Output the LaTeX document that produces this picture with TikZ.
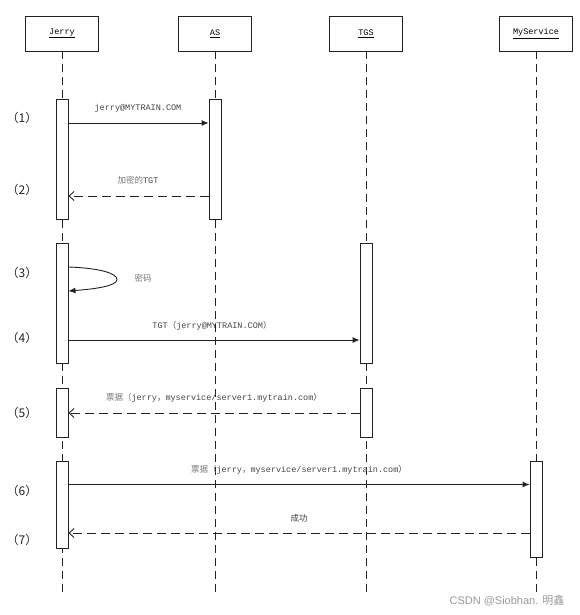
\documentclass[tikz,border=0pt]{standalone}
\usepackage{fontspec}
\setmainfont{Liberation Mono}
\setmonofont{Liberation Mono}
\newfontfamily\cjk{Noto Sans CJK SC}
\newfontfamily\wmfont{Liberation Sans}
\usetikzlibrary{arrows.meta}
\definecolor{lc}{HTML}{222222}
\definecolor{tc}{HTML}{444444}
\definecolor{cc}{HTML}{777777}
\tikzset{
  head/.style={draw=lc, line width=0.9pt, minimum width=73pt, minimum height=35pt, inner sep=0pt, font=\fontsize{8.5}{10}\selectfont\ttfamily},
  life/.style={draw=lc, line width=0.8pt, dash pattern=on 8pt off 5pt},
  act/.style={draw=lc, fill=white, line width=0.9pt, minimum width=12pt, inner sep=0pt},
  msg/.style={draw=lc, line width=0.9pt, -{Latex[length=7pt,width=6pt]}},
  ret/.style={draw=lc, line width=0.9pt, dash pattern=on 9pt off 5pt, -{Straight Barb[length=5pt,width=9pt]}},
  lbl/.style={text=tc, inner sep=0pt, font=\fontsize{8.5}{10}\selectfont\ttfamily},
  steplbl/.style={text=lc, inner sep=0pt, font=\fontsize{12}{13}\selectfont\cjk},
}
\begin{document}
\begin{tikzpicture}[x=1pt,y=-1pt]
\useasboundingbox (0,0) rectangle (580,615);
% headers
\node[head] (hj) at (62,33.5) {\underline{Jerry}};
\node[head] (ha) at (215,33.5) {\underline{AS}};
\node[head] (ht) at (366,33.5) {\underline{TGS}};
\node[head] (hm) at (536,33.5) {\underline{MyService}};
% lifeline ends
\coordinate (ej) at (62,596);
\coordinate (ea) at (215,596);
\coordinate (et) at (366,596);
\coordinate (em) at (536,596);
\draw[life] (hj.south) -- (ej);
\draw[life] (ha.south) -- (ea);
\draw[life] (ht.south) -- (et);
\draw[life] (hm.south) -- (em);
% activations
\node[act, minimum height=120pt] (j1) at (62,159) {};
\node[act, minimum height=120pt] (a1) at (215,159) {};
\node[act, minimum height=120pt] (j2) at (62,303) {};
\node[act, minimum height=120pt] (t2) at (366,303) {};
\node[act, minimum height=49pt] (j3) at (62,412.5) {};
\node[act, minimum height=49pt] (t3) at (366,412.5) {};
\node[act, minimum height=87pt] (j4) at (62,504.5) {};
\node[act, minimum height=96pt] (m4) at (536,509) {};
% messages
\draw[msg] (j1.east |- 0,123) -- (a1.west |- 0,123);
\node[lbl] (l1) at (138,108) {jerry@MYTRAIN.COM};
\draw[ret] (a1.west |- 0,196) -- (j1.east |- 0,196);
\node[lbl] (l2) at (138,180) {{\cjk\color{cc}加密的}TGT};
\draw[msg] (j2.east |- 0,267) .. controls (98,268) and (117,273) .. (117,279.5) .. controls (117,286) and (95,289) .. (j2.east |- 0,291);
\node[lbl, text=cc] (l3) at (143,278) {\cjk 密码};
\draw[msg] (j2.east |- 0,340) -- (t2.west |- 0,340);
\node[lbl] (l4) at (212,326) {TGT{\cjk （}jerry@MYTRAIN.COM{\cjk ）}};
\draw[ret] (t3.west |- 0,413) -- (j3.east |- 0,413);
\node[lbl] (l5) at (214,398) {{\cjk\color{cc}票据（}jerry{\cjk ，}myservice/server1.mytrain.com{\cjk ）}};
\draw[msg] (j4.east |- 0,484.5) -- (m4.west |- 0,484.5);
\node[lbl] (l6) at (299,470) {{\cjk\color{cc}票据（}jerry{\cjk ，}myservice/server1.mytrain.com{\cjk ）}};
\draw[ret] (m4.west |- 0,533) -- (j4.east |- 0,533);
\node[lbl] (l7) at (299,518) {\cjk 成功};
% step numbers
\node[steplbl] (s1) at (22,118) {（1）};
\node[steplbl] (s2) at (22,190) {（2）};
\node[steplbl] (s3) at (22,273) {（3）};
\node[steplbl] (s4) at (22,338) {（4）};
\node[steplbl] (s5) at (22,413) {（5）};
\node[steplbl] (s6) at (22,491) {（6）};
\node[steplbl] (s7) at (22,540) {（7）};
% watermark
\node[text=gray!80, inner sep=0pt, font=\fontsize{11}{12}\selectfont\wmfont] (wm) at (507,601) {CSDN @Siobhan. {\cjk 明鑫}};
\end{tikzpicture}
\end{document}
